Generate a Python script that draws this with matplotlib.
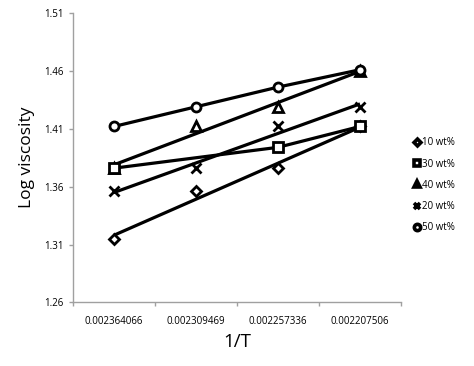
import numpy as np
import matplotlib
matplotlib.use("Agg")
import matplotlib.pyplot as plt

categories = ["0.002364066", "0.002309469", "0.002257336", "0.002207506"]
wt10 = [1.315, 1.356, 1.376, 1.412]
wt30 = [1.376, np.nan, 1.394, 1.412]
wt40 = [1.376, 1.412, 1.429, 1.460]
wt20 = [1.356, 1.376, 1.412, 1.429]
wt50 = [1.412, 1.429, 1.446, 1.461]
yticks = [1.26, 1.31, 1.36, 1.41, 1.46, 1.51]

plt.rcParams['font.family'] = ['Open Sans', 'DejaVu Sans']
fig = plt.figure(figsize=(4.74, 3.66), dpi=100)
ax = fig.add_axes([0.154, 0.1735, 0.692, 0.791])

x = np.arange(len(categories))
series = [("10 wt%", wt10, "D", 5.0, "fit", 3),
          ("30 wt%", wt30, "s", 6.5, "poly", 5),
          ("40 wt%", wt40, "^", 6.5, "fit", 3),
          ("20 wt%", wt20, "x", 6.5, "fit", 4),
          ("50 wt%", wt50, "o", 6.5, "poly", 5)]

handles = []
for name, vals, mk, ms, kind, zo in series:
    v = np.array(vals, dtype=float)
    ok = ~np.isnan(v)
    if kind == "fit":
        p = np.polyfit(x[ok], v[ok], 1)
        ax.plot(x[[0, -1]], np.polyval(p, x[[0, -1]]), color="black", lw=2.3,
                solid_capstyle="butt", zorder=2)
    else:
        ax.plot(x[ok], v[ok], color="black", lw=2.3, zorder=2)
    ax.plot(x[ok], v[ok], linestyle="none", marker=mk, ms=ms, mfc="white",
            mec="black", mew=2.0, zorder=zo)
    h, = ax.plot([], [], linestyle="none", marker=mk, ms=ms * 0.7, mfc="white",
                 mec="black", mew=2.6, label=name)
    handles.append(h)

ax.set_xlim(-0.5, 3.5)
ax.set_ylim(1.26, 1.51)
ax.set_yticks(yticks)
ax.set_yticklabels([f"{t:.2f}" for t in yticks], fontsize=7)
ax.set_xticks(np.arange(-0.5, 4.0, 1.0))
ax.set_xticklabels([])
ax.set_xticks(x, minor=True)
ax.set_xticklabels(categories, minor=True, fontsize=7)
ax.tick_params(axis="x", which="minor", length=0, pad=10)
ax.tick_params(axis="both", which="major", length=3, color="#a0a0a0", width=1)
ax.tick_params(axis="y", pad=4)
for s in ["top", "right"]:
    ax.spines[s].set_visible(False)
for s in ["left", "bottom"]:
    ax.spines[s].set_color("#a0a0a0")
    ax.spines[s].set_linewidth(1)

ax.set_ylabel("Log viscosity", fontsize=12.5, labelpad=6)
ax.set_xlabel("1/T", fontsize=13.5, labelpad=4)

fig.legend(handles=handles, loc="upper left", bbox_to_anchor=(0.865, 0.635),
           frameon=False, fontsize=7, handlelength=0.6, handletextpad=0.25,
           labelspacing=1.05, borderaxespad=0)

fig.savefig("out.png", dpi=100)
